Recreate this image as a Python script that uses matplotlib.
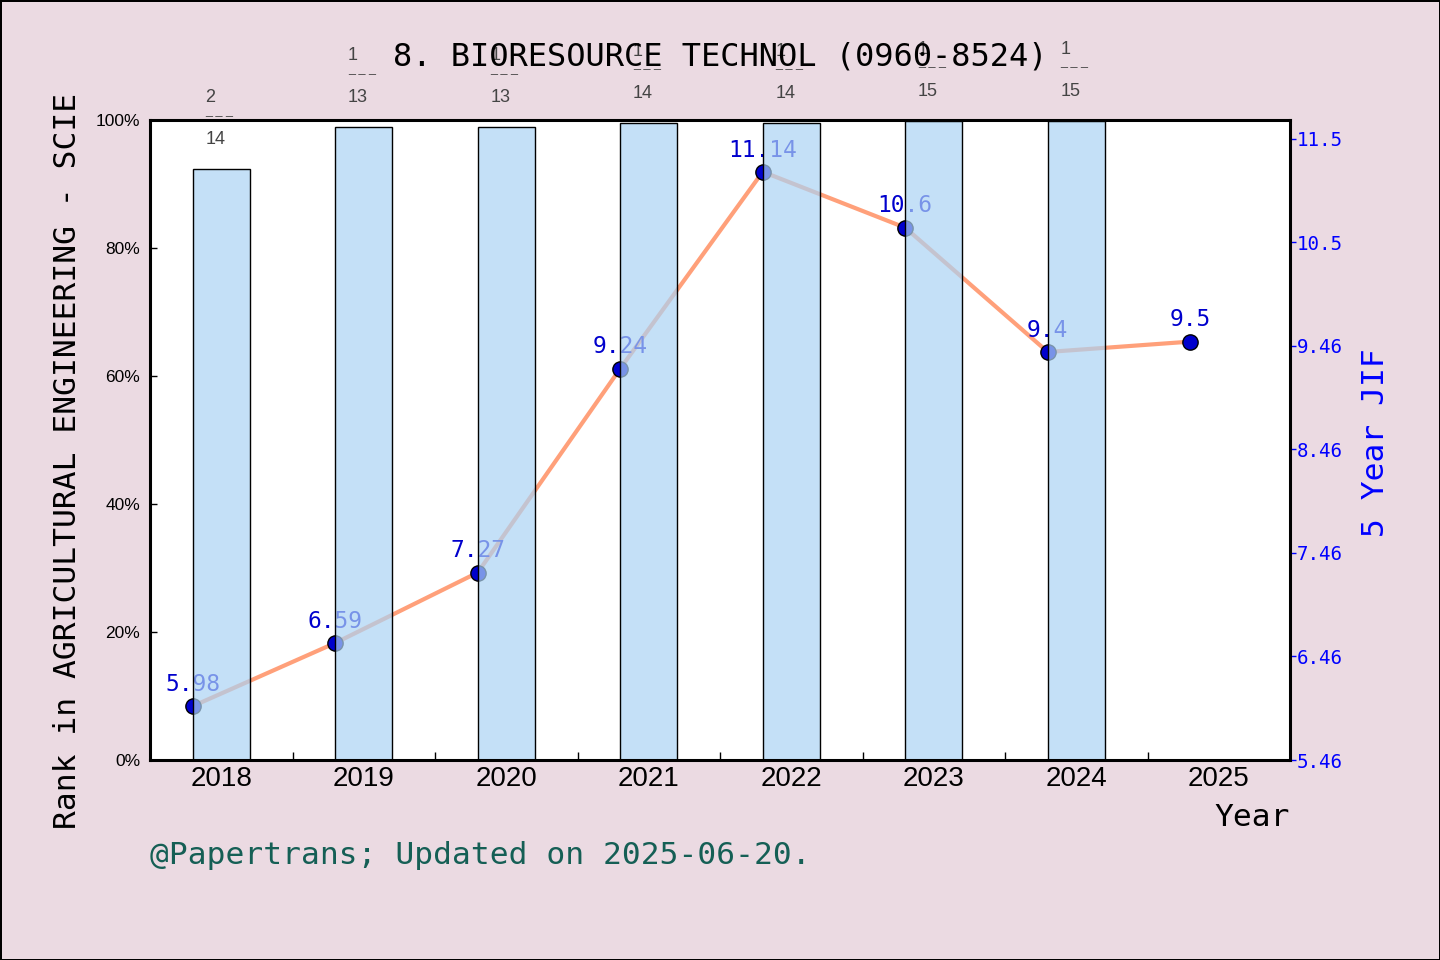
import matplotlib
matplotlib.use("Agg")
import matplotlib.pyplot as plt
import numpy as np

# ---------------------------------------------
# Rank (bars) + 5 Year JIF (line) for one journal
# ---------------------------------------------

years = ["2018", "2019", "2020", "2021", "2022", "2023", "2024", "2025"]
jif_5y = [5.98, 6.59, 7.27, 9.24, 11.14, 10.6, 9.4, 9.5]
rank_pct = [92.3, 98.9, 98.9, 99.6, 99.6, 99.9, 99.9]   # 2018-2024
rank_num = [2, 1, 1, 1, 1, 1, 1]
rank_den = [14, 13, 13, 14, 14, 15, 15]

pct_ticks = [0, 20, 40, 60, 80, 100]
jif_ticks = [5.46, 6.46, 7.46, 8.46, 9.46, 10.46, 11.46]

MONO = "DejaVu Sans Mono"
SANS = "Liberation Sans"
BG = "#EBDAE2"


def main():
    fig = plt.figure(figsize=(14.4, 9.6), dpi=100, facecolor=BG,
                     edgecolor="black", linewidth=2)
    ax = fig.add_axes([150 / 1440, 200 / 960, 1140 / 1440, 640 / 960])
    ax2 = ax.twinx()

    # bars sit on top of the line (semi transparent)
    ax.set_zorder(ax2.get_zorder() + 1)
    ax.patch.set_visible(False)
    ax2.patch.set_visible(True)
    ax2.patch.set_facecolor("white")

    idx = np.arange(len(years))
    bar_w = 0.4

    # --- 5 year JIF line (right axis) ---
    x_pts = idx - bar_w / 2
    ax2.plot(x_pts, jif_5y, color="#FFA07A", lw=3, marker="o", ms=11,
             mfc="#0000CD", mec="black", mew=1, zorder=3)
    for x, v in zip(x_pts, jif_5y):
        ax2.annotate(f"{v:g}", (x, v), xytext=(0, 11), textcoords="offset points",
                     ha="center", va="baseline", color="#0000CD",
                     fontsize=16.5, family=MONO)

    ax2.set_ylim(5.46, 11.64)
    ax2.set_yticks(jif_ticks, ["%.3g" % t for t in jif_ticks])
    ax2.tick_params(axis="y", colors="blue", direction="out", length=4,
                    width=1, pad=1, labelsize=13.75)
    for lab in ax2.get_yticklabels():
        lab.set_family(MONO)
    for s in ax2.spines.values():
        s.set_visible(False)

    # --- rank bars (left axis) ---
    ax.bar(idx[:len(rank_pct)], rank_pct, width=bar_w,
           color=(172 / 255, 211 / 255, 244 / 255, 0.7),
           edgecolor="black", linewidth=1)

    # fraction label "rank / total" above every bar
    for i, (p, r, n) in enumerate(zip(rank_pct, rank_num, rank_den)):
        for txt, dy, fs in ((str(r), 48.2, 13), ("_ _ _", 40.5, 9), (str(n), 18.0, 13)):
            ax.annotate(txt, (i, p), xytext=(-11.5, dy), textcoords="offset points",
                        ha="left", va="baseline", fontsize=fs, color="#444444",
                        family=SANS, annotation_clip=False)

    ax.set_xlim(-0.5, 7.5)
    ax.set_ylim(0, 100)
    ax.set_xticks(idx, years)
    ax.set_xticks(np.arange(-0.5, 8, 1), minor=True)
    ax.tick_params(axis="x", which="major", length=0, labelsize=20, pad=4)
    ax.tick_params(axis="x", which="minor", direction="in", length=6, width=1)
    ax.set_yticks(pct_ticks, [f"{t}%" for t in pct_ticks])
    ax.tick_params(axis="y", direction="in", length=5, width=1, labelsize=12.5, pad=7)
    for lab in ax.get_xticklabels() + ax.get_yticklabels():
        lab.set_family(SANS)
    for s in ax.spines.values():
        s.set_linewidth(2.2)
        s.set_color("black")

    # --- texts ---
    fig.text(0.5, 1 - 57 / 960, "8. BIORESOURCE TECHNOL (0960-8524)",
             ha="center", va="center", fontsize=23, family=MONO)
    fig.text(68 / 1440, 1 - 461 / 960, "Rank in AGRICULTURAL ENGINEERING - SCIE",
             rotation=90, ha="center", va="center", fontsize=22.5, family=MONO)
    fig.text(1375 / 1440, 1 - 443 / 960, "5 Year JIF", rotation=90,
             ha="center", va="center", fontsize=22.5, family=MONO, color="blue")
    fig.text(1290 / 1440, 1 - 817 / 960, "Year", ha="right", va="center",
             fontsize=22.5, family=MONO)
    fig.text(150 / 1440, 1 - 855 / 960, "@Papertrans; Updated on 2025-06-20.",
             ha="left", va="center", fontsize=22.5, family=MONO, color="#155F55")

    fig.savefig("out.png", dpi=100, facecolor=BG, edgecolor="black")


if __name__ == "__main__":
    main()
